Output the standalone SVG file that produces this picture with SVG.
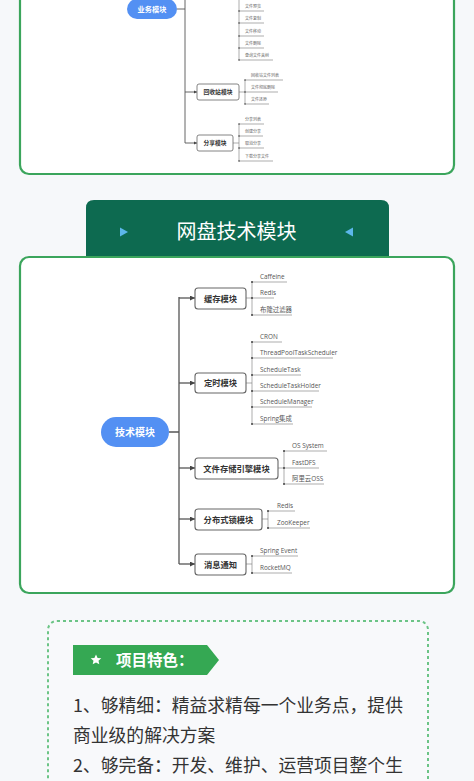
<svg xmlns="http://www.w3.org/2000/svg" width="474" height="781" viewBox="0 0 474 781">
<defs>
<marker id="arr" viewBox="0 0 10 10" refX="10" refY="5" markerWidth="5" markerHeight="5" markerUnits="userSpaceOnUse" orient="auto"><path d="M0,0 L10,5 L0,10 Z" fill="#444"/></marker>
<marker id="arrS" viewBox="0 0 10 10" refX="10" refY="5" markerWidth="3.5" markerHeight="3.5" markerUnits="userSpaceOnUse" orient="auto"><path d="M0,0 L10,5 L0,10 Z" fill="#444"/></marker>
</defs>
<style>
.panel{fill:#fff;stroke:#3ba55c;stroke-width:2.2}
.trunk{fill:none;stroke:#555;stroke-width:1.3}
.trunkS{fill:none;stroke:#555;stroke-width:0.9}
.leafline{fill:none;stroke:#777;stroke-width:0.6}
.dot{fill:#444}
.mod{fill:#fff;stroke:#666;stroke-width:1.1}
.modS{fill:#fff;stroke:#666;stroke-width:0.8}
.modt{font-family:"Noto Sans CJK SC","Liberation Sans",sans-serif;font-weight:bold;fill:#333;text-anchor:middle}
.leaf{font-family:"Open Sans","Noto Sans CJK SC",sans-serif;fill:#555;font-size:6.4px}
.leafS{font-family:"Noto Sans CJK SC",sans-serif;fill:#666;font-size:4px}
.pill{fill:#5390f3}
.pillt{font-family:"Noto Sans CJK SC",sans-serif;font-weight:bold;fill:#fff;text-anchor:middle}
.body{font-family:"Noto Sans CJK SC","Liberation Sans",sans-serif;fill:#333;font-size:17.8px}
</style>
<rect x="0" y="0" width="474" height="781" fill="#f6f8fa"/>

<!-- Top business panel -->
<rect class="panel" x="20" y="-12" width="434" height="186" rx="9"/>
<g id="connectors-biz">
<path class="trunkS" d="M177,9 H185 M185,-5 V143"/>
<path class="trunkS" d="M185,92 H197" marker-end="url(#arrS)"/>
<path class="trunkS" d="M185,143 H197" marker-end="url(#arrS)"/>
<path class="leafline" d="M239,-5 V60 M239,11 H264 M239,23 H264 M239,36 H264 M239,48 H264 M239,60 H273"/>
<path class="leafline" d="M239,92 H245 M245,80 V104 M245,80 H283 M245,92 H278 M245,104 H269"/>
<path class="leafline" d="M233,143 H239 M239,124 V161 M239,124 H264 M239,136 H263 M239,148 H264 M239,161 H273"/>
<g class="dot"><circle cx="239" cy="11" r="0.8"/><circle cx="239" cy="23" r="0.8"/><circle cx="239" cy="36" r="0.8"/><circle cx="239" cy="48" r="0.8"/><circle cx="239" cy="60" r="0.8"/><circle cx="245" cy="80" r="0.8"/><circle cx="245" cy="92" r="0.8"/><circle cx="245" cy="104" r="0.8"/><circle cx="239" cy="124" r="0.8"/><circle cx="239" cy="136" r="0.8"/><circle cx="239" cy="148" r="0.8"/><circle cx="239" cy="161" r="0.8"/></g>
</g>
<g id="node-biz"><rect class="pill" x="127" y="-1" width="50" height="20" rx="10"/><text class="pillt" x="152" y="11.5" font-size="7.2">业务模块</text></g>
<g id="node-recycle"><rect class="modS" x="197" y="84" width="42" height="16" rx="2"/><text class="modt" x="218" y="94.2" font-size="5.8">回收站模块</text></g>
<g id="node-share"><rect class="modS" x="197" y="135" width="36" height="16" rx="2"/><text class="modt" x="215" y="145.2" font-size="5.8">分享模块</text></g>
<g id="leaves-biz">
<text class="leafS" x="245" y="8">文件预览</text>
<text class="leafS" x="245" y="20">文件复制</text>
<text class="leafS" x="245" y="33">文件移动</text>
<text class="leafS" x="245" y="45">文件删除</text>
<text class="leafS" x="245" y="57">查询文件夹树</text>
<text class="leafS" x="251" y="77">回收站文件列表</text>
<text class="leafS" x="251" y="89">文件彻底删除</text>
<text class="leafS" x="251" y="101">文件还原</text>
<text class="leafS" x="245" y="121">分享列表</text>
<text class="leafS" x="245" y="133">创建分享</text>
<text class="leafS" x="245" y="145">取消分享</text>
<text class="leafS" x="245" y="158">下载分享文件</text>
</g>

<!-- Section title -->
<g id="title">
<path d="M86,258 V208 Q86,200 94,200 H381 Q389,200 389,208 V258 Z" fill="#0d6a50"/>
<path d="M120,227.5 L128,232 L120,236.5 Z" fill="#5cb7ea"/>
<path d="M353,227.5 L345,232 L353,236.5 Z" fill="#5cb7ea"/>
<text x="236.5" y="238.5" font-family="Noto Sans CJK SC,sans-serif" font-size="20" fill="#fff" text-anchor="middle">网盘技术模块</text>
</g>

<!-- Tech panel -->
<rect class="panel" x="20" y="257" width="434" height="336" rx="9"/>
<g id="connectors-tech">
<path class="trunk" d="M169,432 H179 M179,297 V564"/>
<path class="trunk" d="M179,298 H195" marker-end="url(#arr)"/>
<path class="trunk" d="M179,383 H195" marker-end="url(#arr)"/>
<path class="trunk" d="M179,468 H195" marker-end="url(#arr)"/>
<path class="trunk" d="M179,519 H195" marker-end="url(#arr)"/>
<path class="trunk" d="M179,564 H195" marker-end="url(#arr)"/>
<path class="leafline" d="M246,298 H252 M252,282 V315 M252,282 H287 M252,298 H274 M252,315 H292"/>
<path class="leafline" d="M246,383 H252 M252,342 V424 M252,342 H282 M252,358 H333 M252,375 H301 M252,391 H319 M252,407 H312 M252,424 H293"/>
<path class="leafline" d="M278,468 H284 M284,451 V484 M284,451 H327 M284,468 H319 M284,484 H324"/>
<path class="leafline" d="M262,519 H268 M268,511 V528 M268,511 H295 M268,528 H310"/>
<path class="leafline" d="M246,564 H252 M252,556 V573 M252,556 H298 M252,573 H292"/>
<g class="dot"><circle cx="252" cy="282" r="1"/><circle cx="252" cy="298" r="1"/><circle cx="252" cy="315" r="1"/><circle cx="252" cy="342" r="1"/><circle cx="252" cy="358" r="1"/><circle cx="252" cy="375" r="1"/><circle cx="252" cy="391" r="1"/><circle cx="252" cy="407" r="1"/><circle cx="252" cy="424" r="1"/><circle cx="284" cy="451" r="1"/><circle cx="284" cy="468" r="1"/><circle cx="284" cy="484" r="1"/><circle cx="268" cy="511" r="1"/><circle cx="268" cy="528" r="1"/><circle cx="252" cy="556" r="1"/><circle cx="252" cy="573" r="1"/></g>
</g>
<g id="node-tech"><rect class="pill" x="101" y="417" width="68" height="30" rx="15"/><text class="pillt" x="135" y="435.5" font-size="10">技术模块</text></g>
<g id="node-cache"><rect class="mod" x="195" y="288" width="51" height="21" rx="3"/><text class="modt" x="220.5" y="301.5" font-size="8.3">缓存模块</text></g>
<g id="node-timer"><rect class="mod" x="195" y="373" width="51" height="20" rx="3"/><text class="modt" x="220.5" y="386" font-size="8.3">定时模块</text></g>
<g id="node-storage"><rect class="mod" x="195" y="458" width="83" height="21" rx="3"/><text class="modt" x="236.5" y="471.5" font-size="8.3">文件存储引擎模块</text></g>
<g id="node-lock"><rect class="mod" x="195" y="509" width="67" height="21" rx="3"/><text class="modt" x="228.5" y="522.5" font-size="8.3">分布式锁模块</text></g>
<g id="node-msg"><rect class="mod" x="195" y="554" width="51" height="21" rx="3"/><text class="modt" x="220.5" y="567.5" font-size="8.3">消息通知</text></g>
<g id="leaves-tech">
<text class="leaf" x="260" y="278.5">Caffeine</text>
<text class="leaf" x="260" y="294.5">Redis</text>
<text class="leaf" x="260" y="311.5">布隆过滤器</text>
<text class="leaf" x="260" y="338.5">CRON</text>
<text class="leaf" x="260" y="354.5">ThreadPoolTaskScheduler</text>
<text class="leaf" x="260" y="371.5">ScheduleTask</text>
<text class="leaf" x="260" y="387.5">ScheduleTaskHolder</text>
<text class="leaf" x="260" y="403.5">ScheduleManager</text>
<text class="leaf" x="260" y="420.5">Spring集成</text>
<text class="leaf" x="292" y="447.5">OS System</text>
<text class="leaf" x="292" y="464.5">FastDFS</text>
<text class="leaf" x="292" y="480.5">阿里云OSS</text>
<text class="leaf" x="277" y="507.5">Redis</text>
<text class="leaf" x="277" y="524.5">ZooKeeper</text>
<text class="leaf" x="260" y="552.5">Spring Event</text>
<text class="leaf" x="260" y="569.5">RocketMQ</text>
</g>

<!-- Features -->
<rect x="48" y="621" width="380" height="180" rx="9" fill="#f8f9fb" stroke="#6cc486" stroke-width="2" stroke-dasharray="3 3"/>
<g id="badge">
<path d="M73,645 H207 L219,660 L207,675 H73 Z" fill="#35a853"/>
<path d="M96,654.5 L97.6,658 L101.3,658.3 L98.5,660.7 L99.3,664.3 L96,662.4 L92.7,664.3 L93.5,660.7 L90.7,658.3 L94.4,658 Z" fill="#fff"/>
<text x="116" y="666" font-family="Noto Sans CJK SC,sans-serif" font-size="15.5" font-weight="bold" fill="#fff">项目特色：</text>
</g>
<text class="body" x="73" y="712">1、够精细：精益求精每一个业务点，提供</text>
<text class="body" x="73" y="742">商业级的解决方案</text>
<text class="body" x="73" y="772">2、够完备：开发、维护、运营项目整个生</text>
</svg>
